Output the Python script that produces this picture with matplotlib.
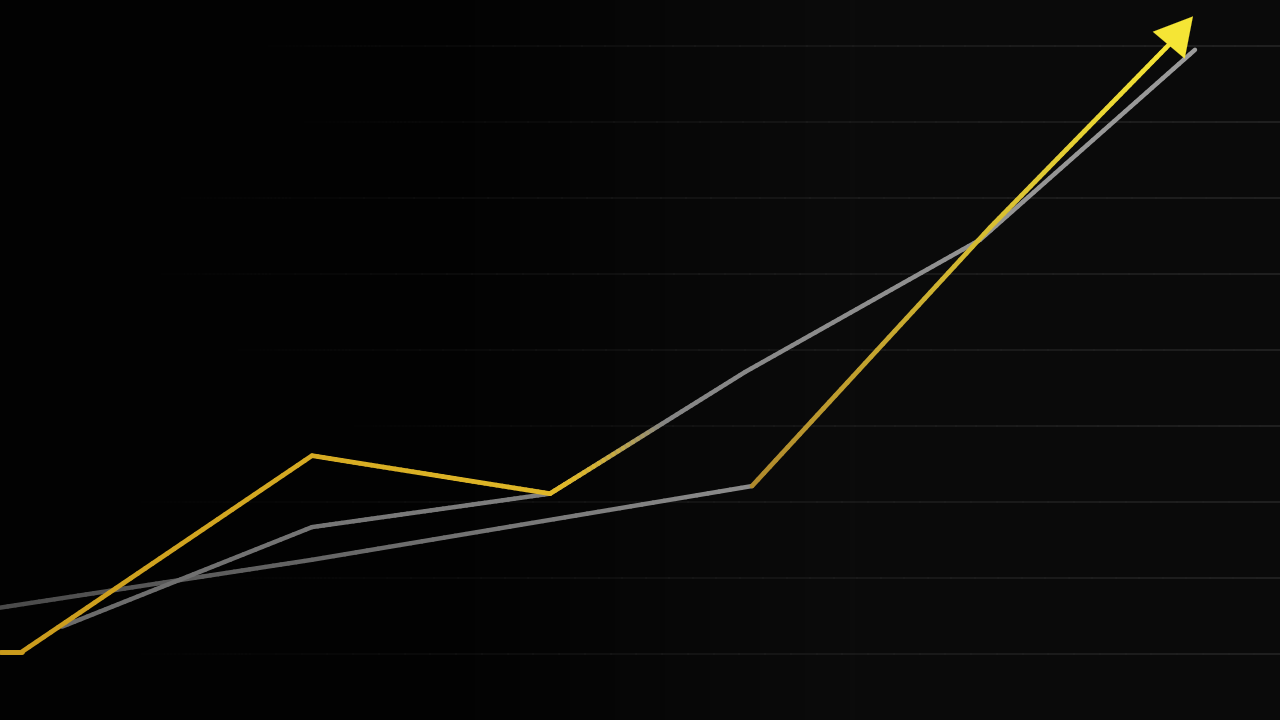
import numpy as np
import matplotlib.pyplot as plt
from matplotlib.collections import LineCollection
from matplotlib.colors import LinearSegmentedColormap, to_rgba

# values (x in time units, y in grid units)
x_gray_a = [0.0, 3.12, 7.52]
y_gray_a = [0.61, 1.24, 2.21]

x_rise = [7.52, 9.90, 11.70]
y_rise = [2.21, 5.61, 8.03]
arrow_tip = (11.93, 8.39)

x_gray_b = [0.62, 3.12, 5.50, 7.45, 9.80, 11.95]
y_gray_b = [0.36, 1.67, 2.11, 3.71, 5.45, 7.95]

x_gold = [0.0, 0.22, 3.12, 5.50, 7.45]
y_gold = [0.03, 0.03, 2.61, 2.11, 3.71]

grid_levels = [0, 1, 2, 3, 4, 5, 6, 7, 8]
grid_start = [2.0, 2.9, 2.0, 4.2, 3.0, 2.2, 2.4, 3.7, 3.3]


def gradient_line(ax, xs, ys, c0, c1, lw, a0=1.0, a1=1.0, fade_to=None, z=3):
    # split each segment into pieces so the colour can change along the line
    px, py = [], []
    for i in range(len(xs) - 1):
        t = np.linspace(0, 1, 40, endpoint=False)
        px.extend(xs[i] + (xs[i + 1] - xs[i]) * t)
        py.extend(ys[i] + (ys[i + 1] - ys[i]) * t)
    px.append(xs[-1]); py.append(ys[-1])
    px, py = np.array(px), np.array(py)
    pts = np.column_stack([px, py]).reshape(-1, 1, 2)
    segs = np.concatenate([pts[:-1], pts[1:]], axis=1)
    f = (px[:-1] - px[0]) / (px[-1] - px[0])
    r0, r1 = np.array(to_rgba(c0)), np.array(to_rgba(c1))
    cols = r0 + (r1 - r0) * f[:, None]
    cols[:, 3] = a0 + (a1 - a0) * f
    if fade_to is not None:
        # fade out after a given x
        start, end = fade_to
        k = np.clip((px[:-1] - start) / (end - start), 0, 1)
        cols[:, 3] *= 1 - k
    lc = LineCollection(segs, colors=cols, linewidths=lw, capstyle='round', joinstyle='round', zorder=z)
    ax.add_collection(lc)


fig = plt.figure(figsize=(12.8, 7.2), dpi=100)
fig.patch.set_facecolor('#0a0a0a')
ax = fig.add_axes([0, 0, 1, 1])
ax.set_xlim(0, 12.8)
ax.set_ylim(-0.868, 8.605)
ax.axis('off')

# background, darker on the left
bg = LinearSegmentedColormap.from_list('bg', ['#020202', '#020202', '#0b0b0b', '#0a0a0a'])
grad = np.linspace(0, 1, 256).reshape(1, -1)
ax.imshow(grad, cmap=bg, extent=[0, 12.8, -0.868, 8.605], aspect='auto', zorder=0)

# faint grid lines fading in from the left
for lv, xs in zip(grid_levels, grid_start):
    gradient_line(ax, [xs - 1.0, xs + 0.5, 12.8], [lv, lv, lv], '#222222', '#222222', 1.3,
                  a0=0.0, a1=1.0, z=1)

gradient_line(ax, x_gray_a, y_gray_a, '#4a4a4a', '#8c8c8c', 3.2, z=2)
gradient_line(ax, x_gray_b, y_gray_b, '#6a6a6a', '#9c9c9c', 3.2, z=2)
gradient_line(ax, x_gold, y_gold, '#c99a1c', '#e8c22c', 3.4, fade_to=(5.6, 6.6), z=3)
gradient_line(ax, x_rise, y_rise, '#b08a2c', '#f5e535', 3.4, z=4)

ax.annotate('', xy=arrow_tip, xytext=(x_rise[-1], y_rise[-1]),
            arrowprops=dict(arrowstyle='-|>,head_length=0.9,head_width=0.5',
                            mutation_scale=30, color='#f5e535', lw=0.1,
                            shrinkA=0, shrinkB=0),
            zorder=5)

fig.savefig('out.png', dpi=100, facecolor=fig.get_facecolor())
